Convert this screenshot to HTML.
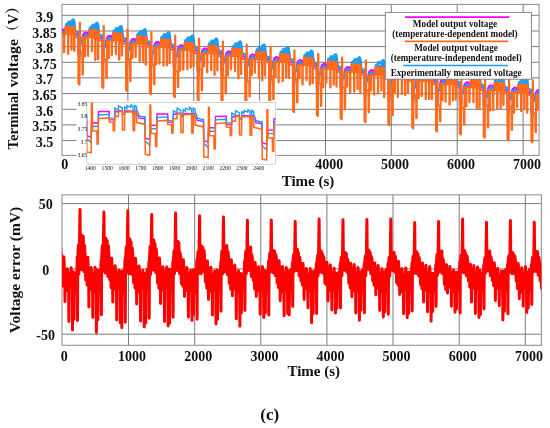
<!DOCTYPE html>
<html><head><meta charset="utf-8"><title>Voltage plot</title>
<style>html,body{margin:0;padding:0;background:#fff;}svg{display:block;}</style>
</head><body>
<svg width="550" height="428" viewBox="0 0 550 428">
<defs>
<clipPath id="ct"><rect x="62.0" y="4.4" width="477.1" height="151.0"/></clipPath>
<clipPath id="ci"><rect x="86.9" y="102.4" width="188.49999999999997" height="61.79999999999998"/></clipPath>
<clipPath id="cb"><rect x="62.0" y="194.8" width="479.4" height="150.5"/></clipPath>
</defs>
<rect width="550" height="428" fill="#fff"/>
<g stroke="#7c7c7c" stroke-width="1"><line x1="62.0" y1="15.3" x2="539.1" y2="15.3"/><line x1="62.0" y1="31.0" x2="539.1" y2="31.0"/><line x1="62.0" y1="46.6" x2="539.1" y2="46.6"/><line x1="62.0" y1="62.3" x2="539.1" y2="62.3"/><line x1="62.0" y1="77.9" x2="539.1" y2="77.9"/><line x1="62.0" y1="93.6" x2="539.1" y2="93.6"/><line x1="62.0" y1="109.3" x2="539.1" y2="109.3"/><line x1="62.0" y1="124.9" x2="539.1" y2="124.9"/><line x1="62.0" y1="140.6" x2="539.1" y2="140.6"/><line x1="127.9" y1="4.4" x2="127.9" y2="155.4"/><line x1="193.7" y1="4.4" x2="193.7" y2="155.4"/><line x1="259.6" y1="4.4" x2="259.6" y2="155.4"/><line x1="325.5" y1="4.4" x2="325.5" y2="155.4"/><line x1="391.3" y1="4.4" x2="391.3" y2="155.4"/><line x1="457.2" y1="4.4" x2="457.2" y2="155.4"/><line x1="523.1" y1="4.4" x2="523.1" y2="155.4"/></g>
<rect x="62.0" y="4.4" width="477.1" height="151.0" fill="none" stroke="#969696" stroke-width="1.1"/>
<g clip-path="url(#ct)" fill="none" stroke-linejoin="round" stroke-width="2">
<g fill="#1E9CEF" stroke="none"><polygon points="34.7,33.0 35.4,30.0 36.3,28.5 37.8,27.5 39.2,27.5 40.6,28.6 41.6,30.2 41.6,31.7 34.7,31.5"/><polygon points="58.5,35.4 59.2,32.4 60.2,31.1 61.6,30.2 63.0,30.4 64.5,31.6 65.4,33.2 65.4,34.7 58.5,33.9"/><polygon points="82.4,38.5 83.1,35.6 84.0,34.3 85.5,33.5 86.9,33.7 88.3,34.9 89.3,36.5 89.3,38.0 82.4,37.0"/><polygon points="106.2,41.8 106.9,38.9 107.9,37.5 109.3,36.7 110.7,36.9 112.2,38.1 113.1,39.7 113.1,41.2 106.2,40.3"/><polygon points="130.0,45.0 130.7,42.1 131.7,40.7 133.1,39.9 134.6,40.1 136.0,41.3 136.9,42.9 136.9,44.4 130.0,43.5"/><polygon points="153.9,48.1 154.6,45.2 155.5,43.8 157.0,43.0 158.4,43.1 159.8,44.3 160.8,45.9 160.8,47.4 153.9,46.6"/><polygon points="177.7,51.3 178.4,48.4 179.4,47.0 180.8,46.2 182.2,46.4 183.7,47.6 184.6,49.2 184.6,50.7 177.7,49.8"/><polygon points="201.6,54.5 202.3,51.6 203.2,50.2 204.7,49.4 206.1,49.6 207.5,50.8 208.5,52.4 208.5,53.9 201.6,53.0"/><polygon points="225.4,57.4 226.1,54.5 227.1,53.1 228.5,52.3 229.9,52.5 231.4,53.6 232.3,55.2 232.3,56.7 225.4,55.9"/><polygon points="249.2,60.5 249.9,57.6 250.9,56.2 252.3,55.4 253.8,55.6 255.2,56.8 256.1,58.4 256.1,59.9 249.2,59.0"/><polygon points="273.1,63.3 273.8,60.3 274.7,58.9 276.2,58.0 277.6,58.2 279.0,59.3 280.0,60.9 280.0,62.4 273.1,61.8"/><polygon points="296.9,66.2 297.6,63.3 298.6,61.9 300.0,61.1 301.4,61.4 302.9,62.6 303.8,64.2 303.8,65.7 296.9,64.7"/><polygon points="320.8,69.9 321.5,67.0 322.4,65.6 323.9,64.8 325.3,65.1 326.7,66.3 327.7,67.9 327.7,69.4 320.8,68.4"/><polygon points="344.6,73.2 345.3,70.2 346.3,68.9 347.7,68.0 349.1,68.2 350.6,69.4 351.5,71.0 351.5,72.5 344.6,71.7"/><polygon points="368.4,76.1 369.1,73.2 370.1,71.8 371.5,71.0 373.0,71.2 374.4,72.4 375.3,74.0 375.3,75.5 368.4,74.6"/><polygon points="392.3,79.2 393.0,76.3 393.9,74.9 395.4,74.1 396.8,74.3 398.2,75.4 399.2,77.1 399.2,78.6 392.3,77.7"/><polygon points="416.1,82.3 416.8,79.3 417.8,78.0 419.2,77.2 420.6,77.3 422.1,78.5 423.0,80.2 423.0,81.7 416.1,80.8"/><polygon points="440.0,85.3 440.7,82.4 441.6,81.1 443.1,80.2 444.5,80.4 445.9,81.6 446.9,83.2 446.9,84.7 440.0,83.8"/><polygon points="463.8,88.4 464.5,85.5 465.5,84.2 466.9,83.3 468.3,83.5 469.8,84.7 470.7,86.3 470.7,87.8 463.8,86.9"/><polygon points="487.6,91.5 488.3,88.6 489.3,87.2 490.7,86.4 492.2,86.6 493.6,87.8 494.5,89.4 494.5,90.9 487.6,90.0"/><polygon points="511.5,93.8 512.2,90.9 513.1,89.5 514.6,88.6 516.0,88.7 517.4,89.8 518.4,91.3 518.4,92.8 511.5,92.3"/><polygon points="535.3,96.1 536.0,93.2 537.0,91.8 538.4,91.0 539.8,91.1 541.3,92.3 542.2,93.9 542.2,95.4 535.3,94.6"/><polygon points="559.2,98.9 559.9,96.0 560.8,94.5 562.3,93.5 563.7,93.5 565.1,94.5 566.1,96.0 566.1,97.5 559.2,97.4"/><polygon points="583.0,99.0 583.7,96.0 584.7,94.5 586.1,93.5 587.5,93.5 589.0,94.5 589.9,96.0 589.9,97.5 583.0,97.5"/></g>
<polyline stroke="#F700F7" points="37.8,26.5 39.2,26.5 40.6,27.6 41.6,29.2 41.8,23.2 51.1,24.4 51.5,30.5 54.5,32.3 54.5,31.8 54.6,49.9 55.9,52.0 56.2,40.1 58.2,39.3 58.5,34.4 59.2,31.4 60.2,30.1 61.6,29.2 63.0,29.4 64.5,30.6 65.4,32.2 65.7,26.3 75.0,27.5 75.3,33.5 78.3,35.5 78.3,35.0 78.4,53.0 79.7,55.2 80.1,43.2 82.0,42.5 82.4,37.5 83.1,34.6 84.0,33.3 85.5,32.5 86.9,32.7 88.3,33.9 89.3,35.5 89.5,29.5 98.8,30.8 99.2,36.9 102.1,38.8 102.1,38.3 102.3,56.3 103.6,58.5 103.9,46.5 105.9,45.8 106.2,40.8 106.9,37.9 107.9,36.5 109.3,35.7 110.7,35.9 112.2,37.1 113.1,38.7 113.3,32.8 122.6,34.0 123.0,40.1 126.0,42.0 126.0,41.5 126.1,59.5 127.4,61.7 127.8,49.7 129.7,49.0 130.0,44.0 130.7,41.1 131.7,39.7 133.1,38.9 134.6,39.1 136.0,40.3 136.9,41.9 137.2,36.0 146.5,37.2 146.8,43.2 149.8,45.1 149.8,44.6 150.0,62.6 151.3,64.8 151.6,52.8 153.6,52.0 153.9,47.1 154.6,44.2 155.5,42.8 157.0,42.0 158.4,42.1 159.8,43.3 160.8,44.9 161.0,39.0 170.3,40.2 170.7,46.2 173.7,48.2 173.7,47.7 173.8,65.7 175.1,67.9 175.4,55.9 177.4,55.2 177.7,50.3 178.4,47.4 179.4,46.0 180.8,45.2 182.2,45.4 183.7,46.6 184.6,48.2 184.9,42.3 194.2,43.6 194.5,49.6 197.5,51.5 197.5,51.0 197.6,69.0 198.9,71.2 199.3,59.2 201.2,58.5 201.6,53.5 202.3,50.6 203.2,49.2 204.7,48.4 206.1,48.6 207.5,49.8 208.5,51.4 208.7,45.4 218.0,46.6 218.4,52.6 221.3,54.5 221.3,54.0 221.5,72.0 222.8,74.1 223.1,62.2 225.1,61.4 225.4,56.4 226.1,53.5 227.1,52.1 228.5,51.3 229.9,51.5 231.4,52.6 232.3,54.2 232.5,48.3 241.8,49.4 242.2,55.5 245.2,57.4 245.2,56.9 245.3,74.9 246.6,77.1 247.0,65.1 248.9,64.4 249.2,59.5 249.9,56.6 250.9,55.2 252.3,54.4 253.8,54.6 255.2,55.8 256.1,57.4 256.4,51.4 265.7,52.6 266.0,58.6 269.0,60.4 269.0,59.9 269.2,77.9 270.5,80.0 270.8,68.0 272.8,67.2 273.1,62.3 273.8,59.3 274.7,57.9 276.2,57.0 277.6,57.2 279.0,58.3 280.0,59.9 280.2,53.9 289.5,55.1 289.9,61.1 292.9,63.1 292.9,62.6 293.0,80.6 294.3,82.8 294.6,70.8 296.6,70.1 296.9,65.2 297.6,62.3 298.6,60.9 300.0,60.1 301.4,60.4 302.9,61.6 303.8,63.2 304.1,57.3 313.4,58.7 313.7,64.7 316.7,66.7 316.7,66.2 316.8,84.2 318.1,86.4 318.5,74.5 320.4,73.8 320.8,68.9 321.5,66.0 322.4,64.6 323.9,63.8 325.3,64.1 326.7,65.3 327.7,66.9 327.9,61.0 337.2,62.3 337.6,68.3 340.5,70.2 340.5,69.7 340.7,87.7 342.0,89.8 342.3,77.9 344.3,77.1 344.6,72.2 345.3,69.2 346.3,67.9 347.7,67.0 349.1,67.2 350.6,68.4 351.5,70.0 351.7,64.0 361.0,65.2 361.4,71.2 364.4,73.1 364.4,72.6 364.5,90.6 365.8,92.8 366.2,80.8 368.1,80.1 368.4,75.1 369.1,72.2 370.1,70.8 371.5,70.0 373.0,70.2 374.4,71.4 375.3,73.0 375.6,67.0 384.9,68.2 385.2,74.3 388.2,76.1 388.2,75.6 388.4,93.7 389.7,95.8 390.0,83.9 392.0,83.1 392.3,78.2 393.0,75.3 393.9,73.9 395.4,73.1 396.8,73.3 398.2,74.4 399.2,76.1 399.4,70.1 408.7,71.3 409.1,77.3 412.1,79.2 412.1,78.7 412.2,96.7 413.5,98.9 413.8,87.0 415.8,86.2 416.1,81.3 416.8,78.3 417.8,77.0 419.2,76.2 420.6,76.3 422.1,77.5 423.0,79.2 423.3,73.2 432.6,74.4 432.9,80.4 435.9,82.3 435.9,81.8 436.0,99.8 437.3,102.0 437.7,90.1 439.6,89.3 440.0,84.3 440.7,81.4 441.6,80.1 443.1,79.2 444.5,79.4 445.9,80.6 446.9,82.2 447.1,76.3 456.4,77.5 456.8,83.5 459.7,85.4 459.7,84.9 459.9,102.9 461.2,105.1 461.5,93.1 463.5,92.4 463.8,87.4 464.5,84.5 465.5,83.2 466.9,82.3 468.3,82.5 469.8,83.7 470.7,85.3 470.9,79.4 480.2,80.6 480.6,86.6 483.6,88.5 483.6,88.0 483.7,106.0 485.0,108.2 485.4,96.2 487.3,95.5 487.6,90.5 488.3,87.6 489.3,86.2 490.7,85.4 492.2,85.6 493.6,86.8 494.5,88.4 494.8,82.5 504.1,83.3 504.4,89.4 507.4,91.1 507.4,90.6 507.6,108.6 508.9,110.7 509.2,98.7 511.2,97.8 511.5,92.8 512.2,89.9 513.1,88.5 514.6,87.6 516.0,87.7 517.4,88.8 518.4,90.3 518.6,84.3 527.9,85.2 528.3,91.3 531.3,93.1 531.3,92.6 531.4,110.6 532.7,112.8 533.0,100.8 535.0,100.1 535.3,95.1 536.0,92.2 537.0,90.8 538.4,90.0 539.8,90.1 541.3,91.3 542.2,92.9 542.5,86.9 551.8,88.0 552.1,94.1 555.1,95.9 555.1,95.4 555.2,113.4 556.5,115.6 556.9,103.6 558.8,102.9 559.2,97.9 559.9,95.0 560.8,93.5 562.3,92.5 563.7,92.5"/>
<polyline stroke="#1E9CEF" points="37.1,29.5 39.0,29.5 40.9,30.1 41.7,27.2 42.1,21.3 42.8,20.9 43.5,20.4 44.2,19.5 44.9,18.1 45.6,19.2 46.4,19.3 47.1,18.4 47.8,17.5 48.7,16.6 49.7,16.2 50.4,17.3 50.9,20.4 51.5,27.5 54.5,29.8 54.5,28.8 54.6,52.9 55.9,56.0 56.2,41.1 58.2,40.3 58.5,35.4 59.5,33.0 60.9,32.2 62.8,32.4 64.7,33.1 65.5,30.2 65.9,24.3 66.6,23.9 67.3,23.5 68.0,22.6 68.8,21.2 69.5,22.2 70.2,22.3 70.9,21.4 71.6,20.5 72.6,19.7 73.5,19.3 74.2,20.4 74.7,23.5 75.3,30.5 78.3,33.0 78.3,32.0 78.4,56.0 79.7,59.2 80.1,44.2 82.0,43.5 82.4,38.5 83.3,36.2 84.7,35.4 86.6,35.6 88.6,36.4 89.4,33.5 89.7,27.6 90.5,27.2 91.2,26.8 91.9,25.9 92.6,24.5 93.3,25.6 94.0,25.7 94.7,24.8 95.5,23.9 96.4,23.0 97.4,22.6 98.1,23.7 98.6,26.8 99.2,33.9 102.1,36.3 102.1,35.3 102.3,59.3 103.6,62.5 103.9,47.5 105.9,46.8 106.2,41.8 107.1,39.4 108.6,38.6 110.5,38.9 112.4,39.7 113.2,36.8 113.6,30.8 114.3,30.4 115.0,30.0 115.7,29.1 116.4,27.7 117.2,28.8 117.9,28.9 118.6,28.0 119.3,27.1 120.3,26.2 121.2,25.8 121.9,26.9 122.4,30.0 123.0,37.1 126.0,39.5 126.0,38.5 126.1,62.5 127.4,65.7 127.8,50.7 129.7,50.0 130.0,45.0 131.0,42.6 132.4,41.8 134.3,42.1 136.2,42.8 137.1,39.9 137.4,34.0 138.1,33.6 138.9,33.2 139.6,32.3 140.3,30.9 141.0,32.0 141.7,32.1 142.4,31.2 143.1,30.3 144.1,29.4 145.1,29.0 145.8,30.1 146.2,33.1 146.8,40.2 149.8,42.6 149.8,41.6 150.0,65.6 151.3,68.8 151.6,53.8 153.6,53.0 153.9,48.1 154.8,45.7 156.3,44.9 158.2,45.1 160.1,45.8 160.9,42.9 161.3,37.0 162.0,36.6 162.7,36.2 163.4,35.3 164.1,33.8 164.8,34.9 165.6,35.0 166.3,34.1 167.0,33.2 167.9,32.3 168.9,32.0 169.6,33.1 170.1,36.2 170.7,43.2 173.7,45.7 173.7,44.7 173.8,68.7 175.1,71.9 175.4,56.9 177.4,56.2 177.7,51.3 178.7,48.9 180.1,48.1 182.0,48.4 183.9,49.1 184.7,46.3 185.1,40.3 185.8,39.9 186.5,39.5 187.2,38.6 188.0,37.2 188.7,38.3 189.4,38.4 190.1,37.5 190.8,36.6 191.8,35.7 192.7,35.4 193.4,36.5 193.9,39.5 194.5,46.6 197.5,49.0 197.5,48.0 197.6,72.0 198.9,75.2 199.3,60.2 201.2,59.5 201.6,54.5 202.5,52.1 203.9,51.3 205.8,51.6 207.8,52.3 208.6,49.4 208.9,43.5 209.7,43.1 210.4,42.6 211.1,41.7 211.8,40.3 212.5,41.4 213.2,41.5 213.9,40.6 214.7,39.7 215.6,38.8 216.6,38.4 217.3,39.5 217.8,42.6 218.4,49.6 221.3,52.0 221.3,51.0 221.5,75.0 222.8,78.1 223.1,63.2 225.1,62.4 225.4,57.4 226.3,55.1 227.8,54.2 229.7,54.4 231.6,55.2 232.4,52.3 232.8,46.3 233.5,45.9 234.2,45.5 234.9,44.6 235.6,43.1 236.4,44.2 237.1,44.3 237.8,43.4 238.5,42.5 239.5,41.6 240.4,41.2 241.1,42.3 241.6,45.4 242.2,52.5 245.2,54.9 245.2,53.9 245.3,77.9 246.6,81.1 247.0,66.1 248.9,65.4 249.2,60.5 250.2,58.1 251.6,57.3 253.5,57.5 255.4,58.3 256.3,55.4 256.6,49.5 257.3,49.1 258.1,48.7 258.8,47.8 259.5,46.4 260.2,47.5 260.9,47.6 261.6,46.7 262.3,45.7 263.3,44.8 264.3,44.4 265.0,45.5 265.4,48.5 266.0,55.6 269.0,57.9 269.0,56.9 269.2,80.9 270.5,84.0 270.8,69.0 272.8,68.2 273.1,63.3 274.0,60.8 275.5,60.0 277.4,60.2 279.3,60.8 280.1,57.9 280.5,52.0 281.2,51.5 281.9,51.1 282.6,50.2 283.3,48.7 284.0,49.8 284.8,49.9 285.5,48.9 286.2,48.0 287.1,47.2 288.1,46.8 288.8,47.9 289.3,51.0 289.9,58.1 292.9,60.6 292.9,59.6 293.0,83.6 294.3,86.8 294.6,71.8 296.6,71.1 296.9,66.2 297.9,63.8 299.3,63.0 301.2,63.3 303.1,64.1 303.9,61.2 304.3,55.3 305.0,54.9 305.7,54.5 306.4,53.6 307.2,52.2 307.9,53.3 308.6,53.4 309.3,52.5 310.0,51.7 311.0,50.8 311.9,50.5 312.6,51.6 313.1,54.6 313.7,61.7 316.7,64.2 316.7,63.2 316.8,87.2 318.1,90.4 318.5,75.5 320.4,74.8 320.8,69.9 321.7,67.5 323.1,66.7 325.0,67.0 327.0,67.8 327.8,65.0 328.1,59.0 328.9,58.6 329.6,58.2 330.3,57.4 331.0,56.0 331.7,57.1 332.4,57.2 333.1,56.3 333.9,55.4 334.8,54.5 335.8,54.1 336.5,55.2 337.0,58.2 337.6,65.3 340.5,67.7 340.5,66.7 340.7,90.7 342.0,93.8 342.3,78.9 344.3,78.1 344.6,73.2 345.5,70.8 347.0,69.9 348.9,70.2 350.8,70.9 351.6,68.0 352.0,62.1 352.7,61.6 353.4,61.2 354.1,60.3 354.8,58.9 355.6,60.0 356.3,60.1 357.0,59.2 357.7,58.3 358.7,57.4 359.6,57.0 360.3,58.1 360.8,61.1 361.4,68.2 364.4,70.6 364.4,69.6 364.5,93.6 365.8,96.8 366.2,81.8 368.1,81.1 368.4,76.1 369.4,73.7 370.8,72.9 372.7,73.2 374.6,73.9 375.5,71.0 375.8,65.0 376.5,64.6 377.3,64.2 378.0,63.3 378.7,61.9 379.4,63.0 380.1,63.1 380.8,62.2 381.5,61.3 382.5,60.4 383.5,60.0 384.2,61.1 384.6,64.2 385.2,71.3 388.2,73.6 388.2,72.6 388.4,96.7 389.7,99.8 390.0,84.9 392.0,84.1 392.3,79.2 393.2,76.8 394.7,76.0 396.6,76.2 398.5,77.0 399.3,74.1 399.7,68.1 400.4,67.7 401.1,67.3 401.8,66.4 402.5,65.0 403.2,66.1 404.0,66.2 404.7,65.3 405.4,64.4 406.3,63.5 407.3,63.1 408.0,64.2 408.5,67.3 409.1,74.3 412.1,76.7 412.1,75.7 412.2,99.7 413.5,102.9 413.8,88.0 415.8,87.2 416.1,82.3 417.1,79.9 418.5,79.1 420.4,79.3 422.3,80.1 423.1,77.2 423.5,71.2 424.2,70.8 424.9,70.4 425.6,69.5 426.4,68.1 427.1,69.2 427.8,69.3 428.5,68.4 429.2,67.5 430.2,66.6 431.1,66.2 431.8,67.3 432.3,70.4 432.9,77.4 435.9,79.8 435.9,78.8 436.0,102.8 437.3,106.0 437.7,91.1 439.6,90.3 440.0,85.3 440.9,83.0 442.3,82.2 444.2,82.4 446.2,83.1 447.0,80.3 447.3,74.3 448.1,73.9 448.8,73.5 449.5,72.6 450.2,71.2 450.9,72.3 451.6,72.4 452.3,71.5 453.1,70.5 454.0,69.7 455.0,69.3 455.7,70.4 456.2,73.4 456.8,80.5 459.7,82.9 459.7,81.9 459.9,105.9 461.2,109.1 461.5,94.1 463.5,93.4 463.8,88.4 464.7,86.1 466.2,85.2 468.1,85.5 470.0,86.2 470.8,83.3 471.2,77.4 471.9,77.0 472.6,76.6 473.3,75.7 474.0,74.3 474.8,75.4 475.5,75.5 476.2,74.5 476.9,73.6 477.9,72.8 478.8,72.4 479.5,73.5 480.0,76.5 480.6,83.6 483.6,86.0 483.6,85.0 483.7,109.0 485.0,112.2 485.4,97.2 487.3,96.5 487.6,91.5 488.6,89.2 490.0,88.3 491.9,88.6 493.8,89.3 494.7,86.4 495.0,80.5 495.7,80.1 496.5,79.7 497.2,78.8 497.9,77.4 498.6,78.4 499.3,78.5 500.0,77.6 500.7,76.6 501.7,75.7 502.7,75.2 503.4,76.3 503.8,79.3 504.4,86.4 507.4,88.6 507.4,87.6 507.6,111.6 508.9,114.7 509.2,99.7 511.2,98.8 511.5,93.8 512.4,91.4 513.9,90.5 515.8,90.6 517.7,91.3 518.5,88.3 518.9,82.4 519.6,81.9 520.3,81.4 521.0,80.5 521.7,79.0 522.4,80.1 523.2,80.2 523.9,79.3 524.6,78.3 525.5,77.5 526.5,77.1 527.2,78.2 527.7,81.2 528.3,88.3 531.3,90.6 531.3,89.6 531.4,113.6 532.7,116.8 533.0,101.8 535.0,101.1 535.3,96.1 536.3,93.7 537.7,92.9 539.6,93.1 541.5,93.8 542.3,90.9 542.7,85.0 543.4,84.6 544.1,84.1 544.8,83.2 545.6,81.8 546.3,82.9 547.0,83.0 547.7,82.1 548.4,81.1 549.4,80.3 550.3,79.9 551.0,80.9 551.5,84.0 552.1,91.1 555.1,93.4 555.1,92.4 555.2,116.4 556.5,119.6 556.9,104.6 558.8,103.9 559.2,98.9 560.1,96.5 561.5,95.5 563.4,95.5"/>
<g fill="#1E9CEF" stroke="none"><polygon points="41.8,24.2 42.1,20.9 42.8,20.2 43.5,20.7 44.2,18.7 44.9,18.2 45.6,18.9 46.4,18.4 47.1,18.4 47.8,16.6 48.7,16.5 49.7,15.4 50.4,16.5 50.9,20.2 51.4,23.4 51.4,25.9 41.8,24.7"/><polygon points="65.7,27.3 65.9,24.9 66.6,23.1 67.3,22.9 68.0,22.8 68.8,22.0 69.5,22.4 70.2,22.1 70.9,22.4 71.6,19.6 72.6,20.4 73.5,18.9 74.2,19.7 74.7,22.7 75.2,26.5 75.2,29.0 65.7,27.8"/><polygon points="89.5,30.5 89.7,27.2 90.5,27.8 91.2,26.1 91.9,26.0 92.6,24.8 93.3,25.3 94.0,25.8 94.7,23.9 95.5,23.0 96.4,22.4 97.4,23.0 98.1,23.6 98.6,26.4 99.0,29.9 99.0,32.4 89.5,31.0"/><polygon points="113.3,33.8 113.6,31.0 114.3,30.3 115.0,29.6 115.7,29.7 116.4,28.1 117.2,28.3 117.9,29.0 118.6,28.0 119.3,27.8 120.3,26.7 121.2,25.4 121.9,27.9 122.4,29.2 122.9,33.1 122.9,35.6 113.3,34.3"/><polygon points="137.2,37.0 137.4,33.8 138.1,34.1 138.9,32.5 139.6,32.3 140.3,30.0 141.0,32.3 141.7,32.6 142.4,31.3 143.1,31.0 144.1,29.0 145.1,29.4 145.8,30.3 146.2,33.3 146.7,36.2 146.7,38.7 137.2,37.5"/><polygon points="161.0,40.0 161.3,36.9 162.0,37.3 162.7,37.1 163.4,35.2 164.1,34.2 164.8,34.1 165.6,35.4 166.3,34.4 167.0,34.2 167.9,33.0 168.9,31.6 169.6,32.9 170.1,36.5 170.6,39.2 170.6,41.7 161.0,40.5"/><polygon points="184.9,43.3 185.1,39.4 185.8,39.8 186.5,38.9 187.2,37.9 188.0,36.3 188.7,38.9 189.4,37.7 190.1,37.0 190.8,36.4 191.8,36.5 192.7,34.5 193.4,36.4 193.9,39.6 194.4,42.6 194.4,45.1 184.9,43.8"/><polygon points="208.7,46.4 208.9,44.2 209.7,43.7 210.4,43.4 211.1,41.3 211.8,40.2 212.5,41.1 213.2,42.3 213.9,41.5 214.7,39.0 215.6,38.2 216.6,37.9 217.3,39.0 217.8,42.5 218.2,45.6 218.2,48.1 208.7,46.9"/><polygon points="232.5,49.3 232.8,46.5 233.5,45.4 234.2,44.5 234.9,44.4 235.6,42.9 236.4,44.4 237.1,45.2 237.8,43.8 238.5,42.5 239.5,41.8 240.4,41.6 241.1,41.5 241.6,46.2 242.1,48.5 242.1,51.0 232.5,49.8"/><polygon points="256.4,52.4 256.6,50.0 257.3,49.8 258.1,49.3 258.8,47.6 259.5,46.2 260.2,46.7 260.9,47.8 261.6,45.8 262.3,44.9 263.3,44.3 264.3,43.8 265.0,45.2 265.4,47.7 265.9,51.6 265.9,54.1 256.4,52.9"/><polygon points="280.2,54.9 280.5,51.0 281.2,50.9 281.9,50.4 282.6,50.0 283.3,48.0 284.0,50.7 284.8,50.3 285.5,48.5 286.2,47.8 287.1,47.2 288.1,46.9 288.8,47.5 289.3,51.9 289.8,54.1 289.8,56.6 280.2,55.4"/><polygon points="304.1,58.3 304.3,56.4 305.0,55.0 305.7,54.7 306.4,53.1 307.2,51.9 307.9,53.4 308.6,53.3 309.3,53.7 310.0,51.5 311.0,50.5 311.9,52.1 312.6,52.2 313.1,54.3 313.6,57.8 313.6,60.2 304.1,58.8"/><polygon points="327.9,62.0 328.1,59.3 328.9,58.0 329.6,58.6 330.3,58.8 331.0,57.3 331.7,58.0 332.4,57.3 333.1,56.7 333.9,55.5 334.8,56.0 335.8,55.2 336.5,56.6 337.0,58.4 337.4,61.4 337.4,63.8 327.9,62.5"/><polygon points="351.7,65.0 352.0,61.8 352.7,62.6 353.4,62.7 354.1,61.6 354.8,60.4 355.6,61.3 356.3,61.3 357.0,59.5 357.7,59.3 358.7,58.3 359.6,57.4 360.3,58.3 360.8,61.4 361.3,64.4 361.3,66.7 351.7,65.5"/><polygon points="375.6,68.0 375.8,65.0 376.5,65.5 377.3,65.7 378.0,64.0 378.7,63.9 379.4,64.9 380.1,64.9 380.8,63.0 381.5,62.0 382.5,61.4 383.5,61.1 384.2,62.0 384.6,65.3 385.1,67.4 385.1,69.7 375.6,68.5"/><polygon points="399.4,71.1 399.7,69.4 400.4,69.0 401.1,68.0 401.8,67.7 402.5,66.9 403.2,66.3 404.0,67.6 404.7,67.4 405.4,66.5 406.3,65.8 407.3,65.0 408.0,65.3 408.5,68.8 409.0,70.6 409.0,72.8 399.4,71.6"/><polygon points="423.3,74.2 423.5,71.4 424.2,72.0 424.9,72.1 425.6,70.3 426.4,69.3 427.1,71.2 427.8,70.8 428.5,69.1 429.2,68.3 430.2,67.8 431.1,69.0 431.8,69.7 432.3,70.6 432.8,73.7 432.8,75.9 423.3,74.7"/><polygon points="447.1,77.3 447.3,75.5 448.1,75.5 448.8,74.6 449.5,73.3 450.2,72.6 450.9,72.7 451.6,72.5 452.3,73.8 453.1,72.5 454.0,71.6 455.0,72.2 455.7,72.0 456.2,75.2 456.6,76.8 456.6,79.0 447.1,77.8"/><polygon points="470.9,80.4 471.2,78.5 471.9,77.0 472.6,76.8 473.3,76.3 474.0,75.1 474.8,76.7 475.5,76.1 476.2,75.8 476.9,74.5 477.9,75.5 478.8,74.1 479.5,75.1 480.0,77.7 480.5,79.8 480.5,82.1 470.9,80.9"/><polygon points="494.8,83.5 495.0,81.8 495.7,80.5 496.5,81.3 497.2,79.8 497.9,78.8 498.6,79.6 499.3,78.7 500.0,78.8 500.7,77.6 501.7,76.6 502.7,77.8 503.4,77.4 503.8,80.3 504.3,82.6 504.3,84.9 494.8,84.0"/><polygon points="518.6,85.3 518.9,83.3 519.6,82.6 520.3,81.9 521.0,81.5 521.7,80.5 522.4,81.8 523.2,80.5 523.9,80.8 524.6,79.5 525.5,78.9 526.5,79.6 527.2,79.9 527.7,82.3 528.2,84.5 528.2,86.8 518.6,85.8"/><polygon points="542.5,87.9 542.7,86.0 543.4,86.0 544.1,84.8 544.8,84.4 545.6,83.2 546.3,84.0 547.0,84.5 547.7,83.3 548.4,82.8 549.4,82.1 550.3,82.7 551.0,83.1 551.5,85.8 552.0,87.3 552.0,89.6 542.5,88.4"/><polygon points="566.3,90.0 566.5,88.4 567.3,86.6 568.0,86.9 568.7,86.9 569.4,85.6 570.1,84.9 570.8,84.9 571.5,84.8 572.3,83.3 573.2,82.9 574.2,82.1 574.9,84.1 575.4,86.6 575.8,88.2 575.8,90.5 566.3,90.5"/><polygon points="590.1,90.0 590.4,88.3 591.1,86.4 591.8,87.2 592.5,86.3 593.2,84.2 594.0,86.4 594.7,86.6 595.4,84.3 596.1,85.0 597.1,83.2 598.0,83.0 598.7,84.7 599.2,86.7 599.7,88.2 599.7,90.5 590.1,90.5"/></g>
<polyline stroke="#FF6A1C" stroke-width="2.05" points="37.0,48.5 37.3,48.5 37.4,31.5 40.0,31.0 40.1,51.4 40.4,51.4 40.5,31.1 41.7,31.2 41.8,23.7 44.1,23.5 44.2,48.3 44.5,48.3 44.6,23.6 47.4,23.9 47.5,50.0 47.8,50.1 47.9,24.0 50.2,24.3 50.3,50.0 50.6,50.0 50.7,25.4 51.2,26.4 51.4,33.4 54.5,34.8 54.5,33.8 54.6,80.3 55.7,81.5 55.9,19.5 56.1,19.5 56.3,48.6 58.5,49.8 58.6,71.4 59.1,71.4 59.3,34.4 60.8,34.1 60.8,50.7 61.2,50.8 61.3,34.2 63.9,34.0 63.9,52.1 64.3,52.1 64.4,34.1 65.5,34.2 65.6,26.8 67.9,26.5 68.0,53.9 68.3,53.9 68.4,26.6 71.3,27.0 71.3,49.7 71.7,49.8 71.7,27.0 74.1,27.4 74.1,50.8 74.5,50.9 74.5,28.4 75.1,29.5 75.2,36.5 78.3,38.0 78.3,37.0 78.4,83.5 79.5,84.6 79.7,22.7 80.0,22.7 80.2,51.0 82.3,52.3 82.5,74.6 82.9,74.6 83.1,37.6 84.6,37.4 84.7,56.3 85.0,56.4 85.1,37.4 87.7,37.3 87.8,55.8 88.1,55.9 88.2,37.4 89.4,37.5 89.5,30.0 91.8,29.9 91.8,51.2 92.2,51.3 92.2,29.9 95.1,30.3 95.2,60.2 95.5,60.2 95.6,30.4 97.9,30.7 98.0,59.4 98.3,59.5 98.4,31.8 98.9,32.8 99.0,39.9 102.1,41.3 102.1,40.3 102.2,86.8 103.4,87.9 103.6,26.0 103.8,26.0 104.0,58.8 106.1,60.0 106.3,77.8 106.8,77.9 107.0,40.9 108.5,40.6 108.5,58.1 108.9,58.1 108.9,40.7 111.6,40.5 111.6,54.8 112.0,54.9 112.0,40.6 113.2,40.8 113.3,33.3 115.6,33.1 115.7,54.2 116.0,54.3 116.1,33.1 118.9,33.5 119.0,59.8 119.4,59.8 119.4,33.6 121.7,33.9 121.8,55.4 122.1,55.4 122.2,35.0 122.7,36.0 122.9,43.1 126.0,44.5 126.0,43.5 126.1,90.0 127.2,91.1 127.4,29.2 127.6,29.2 127.8,58.2 130.0,59.5 130.2,81.0 130.6,81.1 130.8,44.1 132.3,43.8 132.4,58.3 132.7,58.3 132.8,43.9 135.4,43.7 135.5,57.0 135.8,57.0 135.9,43.8 137.1,43.9 137.1,36.5 139.4,36.3 139.5,61.0 139.9,61.0 139.9,36.3 142.8,36.7 142.9,62.2 143.2,62.3 143.3,36.8 145.6,37.1 145.6,64.8 146.0,64.8 146.1,38.1 146.6,39.2 146.7,46.2 149.8,47.6 149.8,46.6 149.9,93.1 151.1,94.2 151.3,32.3 151.5,32.3 151.7,64.0 153.8,65.2 154.0,84.1 154.5,84.2 154.6,47.2 156.1,46.9 156.2,64.5 156.5,64.5 156.6,46.9 159.2,46.7 159.3,63.7 159.6,63.8 159.7,46.8 160.9,46.9 161.0,39.5 163.3,39.2 163.4,65.5 163.7,65.6 163.8,39.3 166.6,39.7 166.7,65.3 167.0,65.4 167.1,39.7 169.4,40.1 169.5,63.3 169.8,63.3 169.9,41.1 170.4,42.2 170.6,49.2 173.7,50.7 173.7,49.7 173.8,96.2 174.9,97.3 175.1,35.4 175.3,35.4 175.5,70.9 177.7,72.2 177.8,87.3 178.3,87.3 178.5,50.4 180.0,50.1 180.0,70.6 180.4,70.6 180.5,50.1 183.1,50.0 183.1,69.8 183.5,69.8 183.6,50.1 184.7,50.3 184.8,42.8 187.1,42.6 187.2,69.3 187.5,69.3 187.6,42.7 190.5,43.1 190.5,67.6 190.9,67.6 190.9,43.1 193.3,43.4 193.3,66.3 193.7,66.3 193.7,44.5 194.3,45.6 194.4,52.6 197.5,54.0 197.5,53.0 197.6,99.5 198.7,100.6 198.9,38.7 199.2,38.7 199.4,68.5 201.5,69.8 201.7,90.5 202.1,90.6 202.3,53.6 203.8,53.3 203.9,66.4 204.2,66.4 204.3,53.4 206.9,53.2 207.0,72.3 207.3,72.4 207.4,53.3 208.6,53.4 208.7,45.9 211.0,45.7 211.0,69.9 211.4,70.0 211.4,45.8 214.3,46.1 214.4,74.9 214.7,75.0 214.8,46.2 217.1,46.5 217.2,70.6 217.5,70.6 217.6,47.5 218.1,48.6 218.2,55.6 221.3,57.0 221.3,56.0 221.4,102.5 222.6,103.6 222.8,41.6 223.0,41.7 223.2,76.8 225.3,78.1 225.5,93.5 226.0,93.5 226.2,56.5 227.7,56.2 227.7,75.5 228.1,75.5 228.1,56.3 230.8,56.1 230.8,69.1 231.2,69.1 231.2,56.1 232.4,56.3 232.5,48.8 234.8,48.5 234.9,71.2 235.2,71.3 235.3,48.6 238.1,48.9 238.2,78.2 238.6,78.3 238.6,49.0 240.9,49.3 241.0,74.1 241.3,74.1 241.4,50.4 241.9,51.5 242.1,58.5 245.2,59.9 245.2,58.9 245.3,105.4 246.4,106.6 246.6,44.6 246.8,44.6 247.0,80.0 249.2,81.3 249.4,96.5 249.8,96.5 250.0,59.6 251.5,59.3 251.6,75.0 251.9,75.0 252.0,59.3 254.6,59.2 254.7,72.8 255.0,72.8 255.1,59.3 256.3,59.4 256.3,51.9 258.6,51.8 258.7,77.8 259.1,77.8 259.1,51.8 262.0,52.2 262.1,80.4 262.4,80.5 262.5,52.3 264.8,52.5 264.8,75.6 265.2,75.7 265.3,53.5 265.8,54.6 265.9,61.6 269.0,62.9 269.0,61.9 269.1,108.4 270.3,109.5 270.5,47.5 270.7,47.5 270.9,75.7 273.0,76.9 273.2,99.3 273.7,99.3 273.8,62.3 275.3,62.0 275.4,77.1 275.7,77.2 275.8,62.0 278.4,61.8 278.5,82.5 278.8,82.5 278.9,61.8 280.1,61.9 280.2,54.4 282.5,54.1 282.6,81.2 282.9,81.2 283.0,54.2 285.8,54.5 285.9,77.4 286.2,77.5 286.3,54.6 288.6,54.9 288.7,77.9 289.0,77.9 289.1,56.0 289.6,57.1 289.8,64.1 292.9,65.6 292.9,64.6 293.0,111.1 294.1,112.2 294.3,50.3 294.5,50.3 294.7,78.6 296.9,80.0 297.0,102.2 297.5,102.3 297.7,65.3 299.2,65.0 299.2,78.0 299.6,78.1 299.7,65.1 302.3,65.0 302.3,84.4 302.7,84.4 302.8,65.1 303.9,65.2 304.0,57.7 306.3,57.6 306.4,80.0 306.7,80.1 306.8,57.7 309.7,58.1 309.7,84.6 310.1,84.6 310.1,58.2 312.5,58.5 312.5,83.1 312.9,83.2 312.9,59.6 313.5,60.7 313.6,67.7 316.7,69.2 316.7,68.2 316.8,114.7 317.9,115.9 318.1,53.9 318.4,54.0 318.6,83.0 320.7,84.4 320.9,105.9 321.3,105.9 321.5,69.0 323.0,68.7 323.1,87.1 323.4,87.1 323.5,68.8 326.1,68.7 326.2,82.8 326.5,82.8 326.6,68.8 327.8,69.0 327.9,61.5 330.2,61.3 330.2,87.5 330.6,87.5 330.6,61.4 333.5,61.8 333.6,84.8 333.9,84.8 334.0,61.9 336.3,62.2 336.4,86.5 336.7,86.6 336.8,63.2 337.3,64.3 337.4,71.3 340.5,72.7 340.5,71.7 340.6,118.2 341.8,119.3 342.0,57.3 342.2,57.4 342.4,86.6 344.5,87.9 344.7,109.2 345.2,109.2 345.4,72.3 346.9,71.9 346.9,86.6 347.3,86.6 347.3,72.0 350.0,71.8 350.0,92.6 350.4,92.6 350.4,71.9 351.6,72.0 351.7,64.5 354.0,64.3 354.1,91.7 354.4,91.8 354.5,64.4 357.3,64.7 357.4,89.1 357.8,89.2 357.8,64.8 360.1,65.1 360.2,93.1 360.5,93.2 360.6,66.1 361.1,67.2 361.3,74.2 364.4,75.6 364.4,74.6 364.5,121.1 365.6,122.3 365.8,60.3 366.0,60.3 366.2,89.5 368.4,90.8 368.6,112.1 369.0,112.2 369.2,75.2 370.7,74.9 370.8,90.6 371.1,90.6 371.2,75.0 373.8,74.8 373.9,94.6 374.2,94.7 374.3,74.8 375.5,75.0 375.5,67.5 377.8,67.3 377.9,93.4 378.3,93.5 378.3,67.4 381.2,67.7 381.3,90.5 381.6,90.6 381.7,67.8 384.0,68.1 384.0,97.0 384.4,97.1 384.5,69.2 385.0,70.2 385.1,77.2 388.2,78.6 388.2,77.6 388.3,124.2 389.5,125.3 389.7,63.3 389.9,63.4 390.1,92.6 392.2,93.9 392.4,115.2 392.9,115.2 393.0,78.3 394.5,78.0 394.6,92.5 394.9,92.6 395.0,78.0 397.6,77.9 397.7,97.1 398.0,97.1 398.1,77.9 399.3,78.1 399.4,70.6 401.7,70.4 401.8,94.0 402.1,94.1 402.2,70.4 405.0,70.8 405.1,95.2 405.4,95.2 405.5,70.9 407.8,71.2 407.9,92.8 408.2,92.8 408.3,72.2 408.8,73.3 409.0,80.3 412.1,81.7 412.1,80.7 412.2,127.2 413.3,128.4 413.5,66.4 413.7,66.4 413.9,94.7 416.1,96.0 416.2,118.3 416.7,118.3 416.9,81.4 418.4,81.0 418.4,98.2 418.8,98.3 418.9,81.1 421.5,81.0 421.5,95.9 421.9,95.9 422.0,81.0 423.1,81.2 423.2,73.7 425.5,73.5 425.6,99.3 425.9,99.3 426.0,73.5 428.9,73.9 428.9,98.9 429.3,98.9 429.3,74.0 431.7,74.3 431.7,98.9 432.1,98.9 432.1,75.3 432.7,76.4 432.8,83.4 435.9,84.8 435.9,83.8 436.0,130.3 437.1,131.5 437.3,69.5 437.6,69.5 437.8,104.7 439.9,106.0 440.1,121.4 440.5,121.4 440.7,84.4 442.2,84.1 442.3,100.5 442.6,100.6 442.7,84.2 445.3,84.0 445.4,101.6 445.7,101.7 445.8,84.1 447.0,84.3 447.1,76.8 449.4,76.6 449.4,104.5 449.8,104.6 449.8,76.6 452.7,77.0 452.8,100.5 453.1,100.5 453.2,77.1 455.5,77.4 455.6,99.6 455.9,99.6 456.0,78.4 456.5,79.5 456.6,86.5 459.7,87.9 459.7,86.9 459.8,133.4 461.0,134.6 461.2,72.6 461.4,72.6 461.6,107.4 463.7,108.7 463.9,124.5 464.4,124.5 464.6,87.5 466.1,87.2 466.1,106.3 466.5,106.3 466.5,87.3 469.2,87.1 469.2,102.1 469.6,102.2 469.6,87.2 470.8,87.3 470.9,79.9 473.2,79.7 473.3,102.2 473.6,102.2 473.7,79.7 476.5,80.1 476.6,108.0 477.0,108.1 477.0,80.2 479.3,80.5 479.4,109.0 479.7,109.0 479.8,81.5 480.3,82.6 480.5,89.6 483.6,91.0 483.6,90.0 483.7,136.5 484.8,137.7 485.0,75.7 485.2,75.7 485.4,104.8 487.6,106.1 487.8,127.5 488.2,127.6 488.4,90.6 489.9,90.3 490.0,110.4 490.3,110.5 490.4,90.4 493.0,90.2 493.1,110.3 493.4,110.3 493.5,90.3 494.7,90.4 494.7,82.9 497.0,82.7 497.1,108.6 497.5,108.6 497.5,82.8 500.4,83.1 500.5,108.5 500.8,108.5 500.9,83.1 503.2,83.3 503.2,105.1 503.6,105.1 503.7,84.3 504.2,85.4 504.3,92.4 507.4,93.6 507.4,92.6 507.5,139.1 508.7,140.2 508.9,78.2 509.1,78.2 509.3,106.0 511.4,107.2 511.6,129.9 512.1,129.9 512.2,92.9 513.7,92.5 513.8,112.7 514.1,112.7 514.2,92.5 516.8,92.2 516.9,107.1 517.2,107.1 517.3,92.2 518.5,92.3 518.6,84.8 520.9,84.5 521.0,111.1 521.3,111.2 521.4,84.5 524.2,84.8 524.3,108.9 524.6,108.9 524.7,84.9 527.0,85.1 527.1,112.7 527.4,112.8 527.5,86.2 528.0,87.2 528.2,94.3 531.3,95.6 531.3,94.6 531.4,141.1 532.5,142.3 532.7,80.3 532.9,80.3 533.1,112.6 535.3,113.9 535.4,132.1 535.9,132.2 536.1,95.2 537.6,94.9 537.6,109.7 538.0,109.8 538.1,94.9 540.7,94.7 540.7,109.1 541.1,109.2 541.2,94.8 542.3,94.9 542.4,87.4 544.7,87.2 544.8,114.0 545.1,114.0 545.2,87.3 548.1,87.6 548.1,110.2 548.5,110.2 548.5,87.7 550.9,87.9 550.9,110.8 551.3,110.8 551.3,89.0 551.9,90.0 552.0,97.1 555.1,98.4 555.1,97.4 555.2,143.9 556.3,145.1 556.5,83.1 556.8,83.1 557.0,115.1 559.1,116.4 559.3,134.9 559.7,135.0 559.9,98.0 561.4,97.5 561.5,116.8 561.8,116.8 561.9,97.5"/>
<g fill="#FF6A1C" stroke="none"><polygon points="41.8,22.9 51.3,24.1 51.3,32.9 41.8,31.7"/><polygon points="65.6,26.0 75.1,27.2 75.1,36.0 65.6,34.8"/><polygon points="89.5,29.2 98.9,30.5 98.9,39.3 89.5,38.0"/><polygon points="113.3,32.5 122.8,33.7 122.8,42.5 113.3,41.3"/><polygon points="137.1,35.7 146.6,36.9 146.6,45.7 137.1,44.5"/><polygon points="161.0,38.7 170.5,39.9 170.5,48.7 161.0,47.5"/><polygon points="184.8,42.0 194.3,43.3 194.3,52.1 184.8,50.8"/><polygon points="208.7,45.1 218.1,46.3 218.1,55.1 208.7,53.9"/><polygon points="232.5,48.0 242.0,49.2 242.0,58.0 232.5,56.8"/><polygon points="256.3,51.1 265.8,52.3 265.8,61.1 256.3,59.9"/><polygon points="280.2,53.6 289.7,54.8 289.7,63.6 280.2,62.4"/><polygon points="304.0,56.9 313.5,58.4 313.5,67.2 304.0,65.7"/><polygon points="327.9,60.7 337.3,62.0 337.3,70.8 327.9,69.5"/><polygon points="351.7,63.7 361.2,64.9 361.2,73.7 351.7,72.5"/><polygon points="375.5,66.7 385.0,67.9 385.0,76.7 375.5,75.5"/><polygon points="399.4,69.8 408.9,71.0 408.9,79.8 399.4,78.6"/><polygon points="423.2,72.9 432.7,74.1 432.7,82.9 423.2,81.7"/><polygon points="447.1,76.0 456.5,77.2 456.5,86.0 447.1,84.8"/><polygon points="470.9,79.1 480.4,80.3 480.4,89.1 470.9,87.9"/><polygon points="494.7,82.1 504.2,83.1 504.2,91.9 494.7,90.9"/><polygon points="518.6,84.0 528.1,85.0 528.1,93.8 518.6,92.8"/><polygon points="542.4,86.6 551.9,87.8 551.9,96.6 542.4,95.4"/><polygon points="566.3,88.7 575.7,88.7 575.7,97.5 566.3,97.5"/><polygon points="590.1,88.7 599.6,88.7 599.6,97.5 590.1,97.5"/></g>
</g>
<g font-family="'Liberation Serif', serif" font-weight="bold" font-size="14" fill="#111"><text x="44.6" y="21.8" text-anchor="middle">3.9</text><text x="44.6" y="37.5" text-anchor="middle">3.85</text><text x="44.6" y="53.1" text-anchor="middle">3.8</text><text x="44.6" y="68.8" text-anchor="middle">3.75</text><text x="44.6" y="84.4" text-anchor="middle">3.7</text><text x="44.6" y="100.1" text-anchor="middle">3.65</text><text x="44.6" y="115.8" text-anchor="middle">3.6</text><text x="44.6" y="131.4" text-anchor="middle">3.55</text><text x="44.6" y="147.1" text-anchor="middle">3.5</text><text x="64.7" y="169.2" text-anchor="middle">0</text><text x="329.3" y="169.2" text-anchor="middle">4000</text><text x="395.1" y="169.2" text-anchor="middle">5000</text><text x="461.0" y="169.2" text-anchor="middle">6000</text><text x="526.9" y="169.2" text-anchor="middle">7000</text></g>
<text x="308" y="186.2" text-anchor="middle" font-family="'Liberation Serif', serif" font-weight="bold" font-size="15" fill="#111">Time (s)</text>
<text transform="translate(18.4,149.4) rotate(-90)" textLength="57.6" lengthAdjust="spacingAndGlyphs" font-family="'Liberation Serif', 'Noto Serif CJK SC', serif" font-weight="bold" font-size="14.5" fill="#111">Terminal</text>
<text transform="translate(18.4,87.3) rotate(-90)" textLength="48.2" lengthAdjust="spacingAndGlyphs" font-family="'Liberation Serif', 'Noto Serif CJK SC', serif" font-weight="bold" font-size="14.5" fill="#111">voltage</text>
<text transform="translate(18.4,38.9) rotate(-90)" font-family="'Liberation Serif', 'Noto Serif CJK SC', serif" font-weight="bold" font-size="14.5" fill="#111">（V）</text>
<rect x="76.5" y="101" width="200" height="72" fill="#fff"/>
<rect x="86.9" y="102.4" width="188.5" height="61.8" fill="#fff" stroke="#b4b4b4" stroke-width="0.6"/>
<g clip-path="url(#ci)" fill="none" stroke-linejoin="miter" stroke-width="1.4">
<polyline stroke="#F700F7" points="59.9,109.5 60.1,108.3 63.8,108.5 64.0,111.7 66.0,111.8 66.2,108.6 74.5,108.9 74.7,112.1 76.1,112.2 76.3,108.7 78.0,108.7 78.2,112.2 80.0,113.3 80.2,115.6 86.5,116.6 86.5,116.6 86.8,135.6 91.2,137.2 91.5,122.7 98.2,123.0 98.5,111.5 109.2,111.4 109.4,119.7 114.6,119.9 114.9,111.6 118.4,111.8 118.6,110.6 122.3,110.7 122.5,113.9 124.5,114.0 124.7,110.8 133.0,111.2 133.2,114.4 134.6,114.5 134.8,111.0 136.5,111.1 136.7,114.6 138.5,115.6 138.7,117.9 145.0,118.9 145.0,118.9 145.3,137.9 149.7,139.6 150.0,125.1 156.7,125.4 157.0,114.0 167.7,113.9 167.9,122.2 173.1,122.5 173.4,114.2 176.9,114.3 177.1,113.1 180.8,113.3 181.0,116.5 183.0,116.6 183.2,113.4 191.5,113.7 191.7,116.9 193.1,117.0 193.3,113.5 195.0,113.6 195.2,117.1 197.0,118.2 197.2,120.5 203.5,121.4 203.5,121.4 203.8,140.4 208.2,142.1 208.5,127.6 215.2,127.9 215.5,116.4 226.2,116.3 226.4,124.6 231.6,124.8 231.9,116.5 235.4,116.7 235.6,115.5 239.3,115.6 239.5,118.8 241.5,118.9 241.7,115.7 250.0,116.0 250.2,119.2 251.6,119.3 251.8,115.8 253.5,115.9 253.7,119.4 255.5,120.4 255.7,122.7 262.0,123.7 262.0,123.7 262.3,142.7 266.7,144.3 267.0,129.9 273.7,130.1 274.0,118.6 284.7,118.5 284.9,126.8 290.1,127.0 290.4,118.7 293.9,118.8 294.1,117.6 297.8,117.8 298.0,121.0 300.0,121.0 300.2,117.8"/>
<polyline stroke="#1E9CEF" points="59.9,108.0 60.1,103.5 63.8,105.7 64.0,111.2 66.0,111.8 66.2,104.8 68.4,106.4 68.5,103.4 72.3,105.0 72.5,102.5 74.5,104.1 74.7,109.6 76.1,110.2 76.3,103.2 78.0,104.2 78.2,107.2 80.0,111.3 80.2,113.3 86.5,115.1 86.5,113.6 86.8,138.6 91.2,142.7 91.5,126.2 98.2,126.5 98.5,115.0 109.2,114.4 109.4,117.9 114.6,118.1 114.9,108.1 118.4,110.3 118.6,105.8 122.3,107.9 122.5,113.4 124.5,114.0 124.7,107.0 126.9,108.6 127.0,105.6 130.8,107.3 131.0,104.8 133.0,106.4 133.2,111.9 134.6,112.5 134.8,105.5 136.5,106.6 136.7,109.6 138.5,113.6 138.7,115.6 145.0,117.4 145.0,115.9 145.3,140.9 149.7,145.1 150.0,128.6 156.7,128.9 157.0,117.5 167.7,116.9 167.9,120.4 173.1,120.7 173.4,110.7 176.9,112.8 177.1,108.3 180.8,110.5 181.0,116.0 183.0,116.6 183.2,109.6 185.4,111.2 185.5,108.2 189.3,109.8 189.5,107.4 191.5,108.9 191.7,114.4 193.1,115.0 193.3,108.0 195.0,109.1 195.2,112.1 197.0,116.2 197.2,118.2 203.5,119.9 203.5,118.4 203.8,143.4 208.2,147.6 208.5,131.1 215.2,131.4 215.5,119.9 226.2,119.3 226.4,122.8 231.6,123.0 231.9,113.0 235.4,115.2 235.6,110.7 239.3,112.8 239.5,118.3 241.5,118.9 241.7,111.9 243.9,113.5 244.0,110.5 247.8,112.2 248.0,109.7 250.0,111.2 250.2,116.7 251.6,117.3 251.8,110.3 253.5,111.4 253.7,114.4 255.5,118.4 255.7,120.4 262.0,122.2 262.0,120.7 262.3,145.7 266.7,149.8 267.0,133.4 273.7,133.6 274.0,122.1 284.7,121.5 284.9,125.0 290.1,125.2 290.4,115.2 293.9,117.3 294.1,112.8 297.8,115.0 298.0,120.5 300.0,121.0 300.2,114.0 302.4,115.6 302.5,112.6"/>
<polyline stroke="#FF6A1C" stroke-width="1.6" points="59.9,114.0 60.1,109.0 63.8,109.2 64.0,127.7 66.0,127.8 66.2,109.8 68.4,109.9 68.5,109.4 74.5,109.6 74.7,128.1 76.1,128.2 76.3,109.7 78.0,109.7 78.2,120.2 86.5,122.1 86.5,120.6 86.8,152.1 91.2,152.7 91.5,102.7 92.2,102.8 92.6,130.8 96.9,131.0 97.1,144.0 98.2,144.0 98.5,118.5 109.2,117.9 109.4,122.1 113.1,122.3 113.3,130.6 114.5,130.6 114.7,116.1 118.4,116.3 118.6,111.3 122.3,111.4 122.5,129.9 124.5,130.0 124.7,112.0 126.9,112.1 127.0,111.6 133.0,111.9 133.2,130.4 134.6,130.5 134.8,112.0 136.5,112.1 136.7,122.6 145.0,124.4 145.0,122.9 145.3,154.4 149.7,155.1 150.0,105.1 150.7,105.2 151.1,133.2 155.4,133.4 155.6,146.4 156.7,146.4 157.0,121.0 167.7,120.4 167.9,124.6 171.6,124.8 171.8,133.1 173.0,133.2 173.2,118.7 176.9,118.8 177.1,113.8 180.8,114.0 181.0,132.5 183.0,132.6 183.2,114.6 185.4,114.7 185.5,114.2 191.5,114.4 191.7,132.9 193.1,133.0 193.3,114.5 195.0,114.6 195.2,125.1 203.5,126.9 203.5,125.4 203.8,156.9 208.2,157.6 208.5,107.6 209.2,107.6 209.6,135.7 213.9,135.8 214.1,148.8 215.2,148.9 215.5,123.4 226.2,122.8 226.4,127.0 230.1,127.2 230.3,135.5 231.5,135.5 231.7,121.0 235.4,121.2 235.6,116.2 239.3,116.3 239.5,134.8 241.5,134.9 241.7,116.9 243.9,117.0 244.0,116.5 250.0,116.7 250.2,135.2 251.6,135.3 251.8,116.8 253.5,116.9 253.7,127.4 262.0,129.2 262.0,127.7 262.3,159.2 266.7,159.8 267.0,109.9 267.7,109.9 268.1,137.9 272.4,138.0 272.6,151.1 273.7,151.1 274.0,125.6 284.7,125.0 284.9,129.2 288.6,129.3 288.8,137.6 290.0,137.7 290.2,123.2 293.9,123.3 294.1,118.3 297.8,118.5 298.0,137.0 300.0,137.0 300.2,119.0 302.4,119.1 302.5,118.6"/>
</g>
<g font-family="'Liberation Serif', serif" font-size="5.6" fill="#111"><text x="87.4" y="105.6" text-anchor="end">3.85</text><text x="87.4" y="118.4" text-anchor="end">3.8</text><text x="87.4" y="131.2" text-anchor="end">3.75</text><text x="87.4" y="144.0" text-anchor="end">3.7</text><text x="87.4" y="156.8" text-anchor="end">3.65</text><text x="90.3" y="170" text-anchor="middle">1400</text><text x="107.2" y="170" text-anchor="middle">1500</text><text x="124.0" y="170" text-anchor="middle">1600</text><text x="140.8" y="170" text-anchor="middle">1700</text><text x="157.7" y="170" text-anchor="middle">1800</text><text x="174.6" y="170" text-anchor="middle">1900</text><text x="191.4" y="170" text-anchor="middle">2000</text><text x="208.2" y="170" text-anchor="middle">2100</text><text x="225.1" y="170" text-anchor="middle">2200</text><text x="241.9" y="170" text-anchor="middle">2300</text><text x="258.8" y="170" text-anchor="middle">2400</text></g>
<g stroke="#999" stroke-width="0.5"><line x1="88.5" y1="164.2" x2="88.5" y2="162.7"/><line x1="105.4" y1="164.2" x2="105.4" y2="162.7"/><line x1="122.2" y1="164.2" x2="122.2" y2="162.7"/><line x1="139.0" y1="164.2" x2="139.0" y2="162.7"/><line x1="155.9" y1="164.2" x2="155.9" y2="162.7"/><line x1="172.8" y1="164.2" x2="172.8" y2="162.7"/><line x1="189.6" y1="164.2" x2="189.6" y2="162.7"/><line x1="206.4" y1="164.2" x2="206.4" y2="162.7"/><line x1="223.3" y1="164.2" x2="223.3" y2="162.7"/><line x1="240.1" y1="164.2" x2="240.1" y2="162.7"/><line x1="257.0" y1="164.2" x2="257.0" y2="162.7"/></g>
<rect x="385.3" y="12.4" width="146.1" height="66.8" fill="#fff" stroke="#7a7a7a" stroke-width="0.9"/>
<line x1="405" y1="17.1" x2="509.5" y2="17.1" stroke="#F700F7" stroke-width="1.6"/>
<line x1="405" y1="41.4" x2="508" y2="41.4" stroke="#FF6A1C" stroke-width="1.6"/>
<line x1="403.4" y1="65.5" x2="508" y2="65.5" stroke="#1E9CEF" stroke-width="1.6"/>
<g font-family="'Liberation Serif', serif" font-weight="bold" font-size="10" fill="#111"><text x="455.0" y="27.0" text-anchor="middle" textLength="84.3" lengthAdjust="spacingAndGlyphs">Model output voltage</text><text x="454.95" y="37.3" text-anchor="middle" textLength="125.3" lengthAdjust="spacingAndGlyphs">(temperature-dependent model)</text><text x="456.0" y="51.1" text-anchor="middle" textLength="83.7" lengthAdjust="spacingAndGlyphs">Model output voltage</text><text x="456.2" y="61.3" text-anchor="middle" textLength="131.0" lengthAdjust="spacingAndGlyphs">(temperature-independent model)</text><text x="456.2" y="75.6" text-anchor="middle" textLength="131.0" lengthAdjust="spacingAndGlyphs">Experimentally measured voltage</text></g>
<g stroke="#7c7c7c" stroke-width="1"><line x1="62.0" y1="203.6" x2="541.4" y2="203.6"/><line x1="62.0" y1="268.9" x2="541.4" y2="268.9"/><line x1="62.0" y1="334.2" x2="541.4" y2="334.2"/><line x1="128.5" y1="194.8" x2="128.5" y2="345.3"/><line x1="194.7" y1="194.8" x2="194.7" y2="345.3"/><line x1="260.8" y1="194.8" x2="260.8" y2="345.3"/><line x1="326.9" y1="194.8" x2="326.9" y2="345.3"/><line x1="393.0" y1="194.8" x2="393.0" y2="345.3"/><line x1="459.2" y1="194.8" x2="459.2" y2="345.3"/><line x1="525.3" y1="194.8" x2="525.3" y2="345.3"/></g>
<rect x="62.0" y="194.8" width="479.4" height="150.5" fill="none" stroke="#969696" stroke-width="1.1"/>
<g clip-path="url(#cb)" fill="none" stroke-linejoin="round" stroke-width="3.0">
<polyline stroke="#FF0000" points="57.1,242.2 57.6,268.9 58.2,236.4 58.8,243.1 59.4,238.0 60.0,273.4 60.6,247.4 61.3,255.3 61.9,280.0 62.6,266.2 63.3,285.9 63.9,256.8 64.8,281.6 65.0,301.5 65.2,271.0 66.3,290.8 67.3,268.7 68.6,280.1 68.9,321.4 69.1,278.2 70.1,287.8 71.1,267.8 72.2,282.4 72.5,330.1 72.7,280.4 73.5,271.8 74.0,319.2 74.3,282.6 75.3,273.6 76.1,291.7 76.6,283.4 77.2,257.3 77.5,320.5 77.8,257.0 78.4,245.2 78.9,274.1 79.5,240.0 80.0,209.5 80.4,249.0 81.0,240.9 81.5,269.4 82.1,235.6 82.7,242.8 83.3,236.6 83.9,271.6 84.5,245.4 85.2,257.2 85.8,280.1 86.5,263.9 87.2,285.1 87.8,257.2 88.7,278.2 88.9,307.1 89.1,269.8 90.2,289.4 91.2,267.4 92.5,284.2 92.8,317.4 93.0,276.8 94.0,291.9 95.0,267.3 96.1,285.0 96.4,332.6 96.6,283.0 97.4,270.1 97.9,319.8 98.2,287.0 99.2,270.9 100.0,292.2 100.5,280.8 101.1,260.3 101.4,314.8 101.7,256.2 102.3,245.7 102.8,271.5 103.4,241.8 103.9,211.9 104.3,249.9 104.9,244.4 105.4,273.1 106.0,238.3 106.6,245.3 107.2,240.8 107.8,276.5 108.4,245.8 109.1,257.2 109.7,279.6 110.4,264.2 111.1,287.8 111.7,258.2 112.6,279.2 112.8,301.9 113.0,271.0 114.1,289.5 115.1,265.7 116.4,279.7 116.7,319.9 116.9,279.7 117.9,288.6 118.9,270.3 120.0,285.6 120.3,322.7 120.5,281.8 121.3,271.3 121.8,327.7 122.1,285.0 123.1,271.1 123.9,292.3 124.4,281.4 125.0,259.6 125.3,322.3 125.6,258.1 126.2,247.0 126.7,273.2 127.3,243.1 127.8,210.8 128.2,250.4 128.8,245.8 129.3,273.8 129.9,238.9 130.5,245.1 131.1,242.0 131.7,274.4 132.3,248.0 133.0,257.9 133.6,282.7 134.3,267.3 135.0,287.9 135.6,258.3 136.5,280.4 136.7,303.9 136.9,270.1 138.0,292.3 139.0,265.9 140.3,280.7 140.6,320.9 140.8,280.8 141.8,288.2 142.8,270.3 143.9,286.2 144.2,327.1 144.4,280.9 145.2,273.6 145.7,323.3 146.0,285.4 147.0,269.8 147.8,290.1 148.3,280.1 148.9,261.9 149.2,318.3 149.5,258.6 150.1,246.6 150.6,274.4 151.2,245.1 151.7,214.4 152.1,252.2 152.7,246.6 153.2,269.9 153.8,239.9 154.4,249.4 155.0,243.5 155.6,272.5 156.2,249.0 156.9,256.6 157.5,282.8 158.2,268.2 158.9,288.3 159.5,258.1 160.4,280.5 160.6,303.5 160.8,271.9 161.9,290.2 162.9,266.8 164.2,279.8 164.5,321.4 164.7,281.9 165.7,287.5 166.7,266.9 167.8,282.0 168.1,325.9 168.3,279.6 169.1,269.3 169.6,323.2 169.9,283.3 170.9,269.8 171.7,288.9 172.2,281.9 172.8,261.9 173.1,317.2 173.4,260.8 174.0,251.0 174.5,273.7 175.1,246.3 175.6,213.1 176.0,255.0 176.6,245.2 177.1,270.5 177.7,241.2 178.3,247.8 178.9,242.6 179.5,273.7 180.1,252.6 180.8,257.5 181.4,283.7 182.1,267.3 182.8,286.3 183.4,259.7 184.3,279.8 184.5,296.6 184.7,270.9 185.8,290.6 186.8,267.6 188.1,280.1 188.4,317.0 188.6,277.9 189.6,290.6 190.6,270.5 191.7,284.4 192.0,320.6 192.2,283.7 193.0,270.0 193.5,314.7 193.8,283.0 194.8,269.8 195.6,292.4 196.2,281.3 196.8,260.1 197.1,319.2 197.4,261.2 198.0,251.5 198.5,274.0 199.1,247.2 199.6,215.8 200.0,253.2 200.6,250.1 201.1,273.8 201.7,245.9 202.2,252.0 202.9,247.4 203.5,271.6 204.1,250.4 204.8,260.7 205.4,281.9 206.1,267.2 206.8,288.2 207.4,260.9 208.2,278.6 208.5,299.6 208.7,272.2 209.8,291.4 210.8,267.2 212.1,283.9 212.4,315.1 212.6,278.2 213.6,290.4 214.6,271.1 215.7,286.3 216.0,324.0 216.2,281.4 217.0,270.0 217.5,319.3 217.8,283.0 218.8,270.9 219.6,290.2 220.1,282.6 220.7,262.1 221.0,311.3 221.3,261.2 221.9,251.0 222.4,274.3 223.0,249.4 223.5,216.9 223.9,254.5 224.5,251.2 225.0,271.9 225.6,246.4 226.2,250.3 226.8,245.5 227.4,274.8 228.0,251.4 228.7,258.6 229.3,283.2 230.0,266.5 230.7,289.2 231.3,259.7 232.2,278.5 232.4,295.7 232.6,270.0 233.7,288.9 234.7,265.1 236.0,281.6 236.3,318.7 236.5,278.9 237.5,292.4 238.5,270.8 239.6,283.1 239.9,326.2 240.1,284.1 240.9,273.6 241.4,312.9 241.7,286.2 242.7,274.0 243.5,288.0 244.0,283.9 244.6,261.2 244.9,310.6 245.2,260.2 245.8,251.2 246.3,273.7 246.9,248.7 247.4,220.2 247.8,255.1 248.4,250.9 248.9,270.4 249.5,249.3 250.1,252.0 250.7,247.1 251.3,276.4 251.9,254.8 252.6,260.2 253.2,280.2 253.9,267.6 254.6,288.9 255.2,262.5 256.1,278.7 256.3,296.4 256.5,272.1 257.6,290.5 258.6,266.8 259.9,282.7 260.2,314.3 260.4,281.5 261.4,289.8 262.4,266.4 263.5,285.0 263.8,317.6 264.0,283.7 264.8,270.5 265.3,313.0 265.6,283.7 266.6,271.4 267.4,289.9 267.9,281.2 268.5,261.5 268.8,315.0 269.1,263.6 269.7,253.3 270.2,271.9 270.8,251.2 271.3,220.0 271.7,256.3 272.3,253.5 272.8,272.7 273.4,250.5 274.0,253.9 274.6,251.1 275.2,275.5 275.8,254.5 276.5,259.3 277.1,283.0 277.8,265.2 278.5,287.6 279.1,260.7 280.0,278.9 280.2,300.7 280.4,273.0 281.5,292.3 282.5,266.4 283.8,282.6 284.1,315.8 284.3,280.1 285.3,290.7 286.3,267.5 287.4,286.4 287.7,313.8 287.9,282.1 288.7,271.0 289.2,314.9 289.5,282.8 290.5,269.8 291.3,289.5 291.8,282.1 292.4,262.7 292.7,306.5 293.0,263.0 293.6,254.5 294.1,271.7 294.7,252.9 295.2,221.6 295.6,259.2 296.2,252.8 296.7,270.6 297.3,249.2 297.9,254.1 298.5,252.9 299.1,275.7 299.7,257.3 300.4,263.0 301.0,280.9 301.7,264.4 302.4,285.1 303.0,263.6 303.9,277.4 304.1,299.5 304.3,271.9 305.4,288.6 306.4,268.5 307.7,284.1 308.0,307.8 308.2,280.4 309.2,290.5 310.2,268.5 311.3,283.7 311.6,322.8 311.8,282.8 312.6,271.8 313.1,313.6 313.4,286.1 314.4,271.1 315.2,287.4 315.7,282.5 316.3,263.6 316.6,313.6 316.9,263.8 317.5,255.5 318.0,276.1 318.6,252.1 319.1,219.0 319.5,260.3 320.1,252.7 320.6,272.2 321.2,250.9 321.8,255.2 322.4,253.6 323.0,273.2 323.6,256.4 324.3,260.9 324.9,283.2 325.6,265.0 326.3,284.8 326.9,262.3 327.8,279.2 328.0,301.1 328.2,271.5 329.3,290.6 330.3,265.1 331.6,281.0 331.9,310.0 332.1,281.0 333.1,289.0 334.1,268.2 335.2,286.2 335.5,312.9 335.7,281.1 336.5,273.5 337.0,308.3 337.3,286.4 338.3,272.4 339.1,288.6 339.6,281.5 340.2,263.6 340.5,308.1 340.8,263.1 341.4,256.9 341.9,275.8 342.5,255.3 343.0,219.7 343.4,257.7 344.0,254.3 344.5,270.3 345.1,252.5 345.7,257.1 346.3,253.2 346.9,272.2 347.5,258.8 348.2,262.1 348.8,283.3 349.5,264.9 350.2,287.9 350.8,263.6 351.7,279.9 351.9,296.7 352.1,270.1 353.2,290.6 354.2,264.5 355.5,284.0 355.8,313.1 356.0,281.4 357.0,291.8 358.0,267.4 359.1,283.4 359.4,320.3 359.6,283.6 360.4,271.9 360.9,310.2 361.2,282.9 362.2,270.2 363.0,289.3 363.5,283.8 364.1,264.2 364.4,312.8 364.7,262.8 365.3,255.9 365.8,275.7 366.4,254.6 366.9,219.5 367.3,260.6 367.9,253.3 368.4,269.5 369.0,250.2 369.6,256.6 370.2,252.6 370.8,273.7 371.4,256.5 372.1,260.2 372.7,281.0 373.4,267.3 374.1,285.3 374.7,263.0 375.6,278.8 375.8,294.7 376.0,274.1 377.1,288.4 378.1,265.4 379.4,282.0 379.7,310.4 379.9,279.6 380.9,291.4 381.9,268.7 383.0,287.0 383.3,317.0 383.5,281.2 384.3,271.8 384.8,312.1 385.1,282.2 386.1,269.5 386.9,291.7 387.4,280.4 388.0,263.3 388.3,314.3 388.6,263.5 389.2,257.2 389.7,276.3 390.3,253.5 390.8,218.9 391.2,259.4 391.8,253.0 392.3,270.5 392.9,253.4 393.5,254.8 394.1,252.4 394.7,271.9 395.3,256.2 396.0,261.2 396.6,282.8 397.3,264.7 398.0,284.9 398.6,261.5 399.5,279.7 399.7,294.4 399.9,271.6 401.0,291.8 402.0,268.7 403.3,284.2 403.6,313.8 403.8,281.1 404.8,289.8 405.8,267.9 406.9,284.4 407.2,317.8 407.4,281.2 408.2,272.5 408.7,313.2 409.0,283.2 410.0,272.0 410.8,291.5 411.3,279.9 411.9,262.9 412.2,311.0 412.5,263.5 413.1,256.1 413.6,273.6 414.2,254.7 414.7,222.5 415.1,259.9 415.7,253.4 416.2,273.4 416.8,252.1 417.4,257.4 418.0,253.9 418.6,275.8 419.2,257.4 419.9,263.4 420.5,284.4 421.2,268.3 421.9,288.9 422.5,263.0 423.4,281.6 423.6,302.1 423.8,271.8 424.9,290.3 425.9,265.2 427.2,284.3 427.5,311.7 427.7,279.9 428.7,292.3 429.7,266.5 430.8,286.0 431.1,321.2 431.3,282.1 432.1,273.3 432.6,311.5 432.9,285.4 433.9,273.5 434.7,292.1 435.2,280.8 435.8,264.7 436.1,306.6 436.4,263.1 437.0,254.5 437.5,275.2 438.1,254.6 438.6,221.5 439.0,257.5 439.6,254.0 440.1,272.3 440.8,253.5 441.3,255.5 441.9,250.9 442.5,273.6 443.1,259.0 443.8,263.9 444.4,284.1 445.1,268.0 445.8,289.6 446.4,264.7 447.3,278.5 447.5,292.9 447.8,273.1 448.8,287.3 449.8,266.4 451.1,280.4 451.4,306.3 451.6,277.0 452.6,292.2 453.6,269.9 454.8,284.0 455.0,312.3 455.2,284.1 456.0,272.6 456.5,309.1 456.8,286.6 457.8,272.1 458.6,290.7 459.2,281.0 459.8,262.1 460.1,313.0 460.4,262.0 461.0,255.2 461.5,272.4 462.1,253.4 462.6,218.9 463.0,259.3 463.6,254.8 464.1,272.9 464.7,250.8 465.3,256.2 465.9,253.7 466.5,275.8 467.1,256.2 467.8,261.7 468.4,280.9 469.1,266.9 469.8,287.3 470.4,264.3 471.3,278.2 471.5,302.1 471.7,271.7 472.8,288.4 473.8,265.4 475.1,284.1 475.4,313.4 475.6,277.6 476.6,289.1 477.6,266.9 478.7,282.6 479.0,317.5 479.2,279.9 480.0,270.3 480.5,314.5 480.8,285.3 481.8,273.7 482.6,290.3 483.1,279.6 483.7,265.4 484.0,308.9 484.3,264.5 484.9,257.8 485.4,273.3 486.0,254.6 486.5,222.3 486.9,260.1 487.5,253.9 488.0,271.1 488.6,253.8 489.2,257.2 489.8,250.9 490.4,275.6 491.0,256.8 491.7,262.4 492.3,280.5 493.0,265.7 493.7,285.7 494.3,262.8 495.2,281.0 495.4,300.5 495.6,273.7 496.7,288.1 497.7,268.3 499.0,284.4 499.3,305.8 499.5,280.9 500.5,287.7 501.5,271.1 502.6,284.8 502.9,319.9 503.1,280.2 503.9,270.9 504.4,311.3 504.7,283.2 505.7,269.6 506.5,290.6 507.0,281.4 507.6,264.0 507.9,313.7 508.2,261.6 508.8,255.8 509.3,272.5 509.9,254.8 510.4,220.4 510.8,258.9 511.4,253.6 511.9,273.7 512.5,252.5 513.1,256.2 513.7,254.4 514.3,273.8 514.9,256.1 515.6,262.4 516.2,281.2 516.9,265.7 517.6,288.7 518.2,263.5 519.1,276.8 519.3,298.8 519.5,271.9 520.6,292.0 521.6,267.8 522.9,283.7 523.2,306.2 523.4,278.2 524.4,287.8 525.4,266.4 526.5,284.0 526.8,312.5 527.0,281.8 527.8,271.9 528.3,308.1 528.6,282.5 529.6,269.2 530.4,289.9 530.9,280.5 531.5,264.2 531.8,304.5 532.1,261.3 532.7,257.0 533.2,271.9 533.8,254.9 534.3,222.2 534.7,257.8 535.3,255.3 535.8,271.4 536.4,251.4 537.0,258.0 537.6,251.8 538.2,275.3 538.8,257.3 539.5,262.7 540.1,280.7 540.8,265.0 541.5,288.3 542.1,264.5 543.0,280.4 543.2,298.0 543.4,273.7 544.5,291.6 545.5,264.9"/>
</g>
<g font-family="'Liberation Serif', serif" font-weight="bold" font-size="14" fill="#111"><text x="45.7" y="209.4" text-anchor="middle">50</text><text x="45.7" y="274.7" text-anchor="middle">0</text><text x="45.7" y="340.0" text-anchor="middle">-50</text><text x="64.3" y="360.6" text-anchor="middle">0</text><text x="132.1" y="360.6" text-anchor="middle">1000</text><text x="198.3" y="360.6" text-anchor="middle">2000</text><text x="264.4" y="360.6" text-anchor="middle">3000</text><text x="330.5" y="360.6" text-anchor="middle">4000</text><text x="396.6" y="360.6" text-anchor="middle">5000</text><text x="462.8" y="360.6" text-anchor="middle">6000</text><text x="528.9" y="360.6" text-anchor="middle">7000</text></g>
<text x="313.8" y="375.6" text-anchor="middle" font-family="'Liberation Serif', serif" font-weight="bold" font-size="15" fill="#111">Time (s)</text>
<text transform="translate(19.5,270) rotate(-90)" text-anchor="middle" textLength="126.4" lengthAdjust="spacingAndGlyphs" font-family="'Liberation Serif', serif" font-weight="bold" font-size="14.5" fill="#111">Voltage error (mV)</text>
<text x="269.7" y="419.5" text-anchor="middle" font-family="'Liberation Serif', serif" font-weight="bold" font-size="17" fill="#111">(c)</text>
</svg>
</body></html>
